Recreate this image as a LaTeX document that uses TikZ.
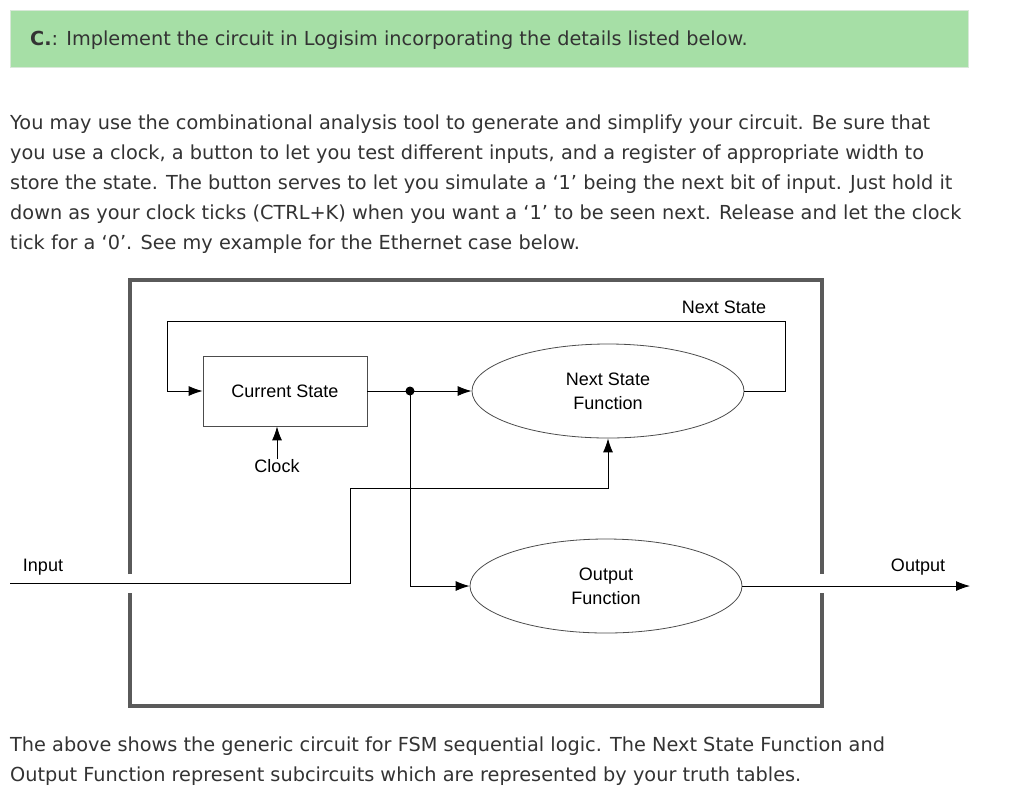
\documentclass[tikz,border=0pt]{standalone}
\usepackage{fontspec}
\setmainfont{Liberation Sans}
\newfontfamily\parafont{DejaVu Sans}
\usetikzlibrary{shapes.geometric,arrows.meta}
\definecolor{banner}{HTML}{A6DFA6}
\definecolor{bannerline}{HTML}{D8E8D8}
\definecolor{txt}{HTML}{333333}
\definecolor{frame}{HTML}{5A5A5A}
\begin{document}
\begin{tikzpicture}[x=1pt,y=-1pt,
  para/.style={anchor=west,inner sep=0,font=\parafont\fontsize{19.3}{22}\selectfont,text=txt},
  lbl/.style={inner sep=0,font=\fontsize{18}{24}\selectfont},
  wire/.style={line width=0.9pt},
  arr/.style={wire,-{Latex[length=14pt,width=10pt]}},
  ell/.style={ellipse,draw=black!70,line width=0.8pt,minimum width=272pt,minimum height=94pt,align=center,inner sep=0,font=\fontsize{18}{24}\selectfont}]
\useasboundingbox (0,0) rectangle (1024,804);
\fill[white] (0,0) rectangle (1024,804);
\filldraw[fill=banner,draw=bannerline,line width=1pt] (10,10) rectangle (968,67);
\node[para,anchor=west] (title) at (30,40) {\textbf{C.}: Implement the circuit in Logisim incorporating the details listed below.};
\node[para] (p1) at (10,124) {You may use the combinational analysis tool to generate and simplify your circuit. Be sure that};
\node[para] (p2) at (10,154) {you use a clock, a button to let you test different inputs, and a register of appropriate width to};
\node[para] (p3) at (10,184) {store the state. The button serves to let you simulate a ‘1’ being the next bit of input. Just hold it};
\node[para] (p4) at (10,214) {down as your clock ticks (CTRL+K) when you want a ‘1’ to be seen next. Release and let the clock};
\node[para] (p5) at (10,244) {tick for a ‘0’. See my example for the Ethernet case below.};
\node[para] (q1) at (10,746) {The above shows the generic circuit for FSM sequential logic. The Next State Function and};
\node[para] (q2) at (10,776) {Output Function represent subcircuits which are represented by your truth tables.};
% frame with gaps
\draw[frame,line width=3.5pt] (130,574) -- (130,280) -- (822,280) -- (822,574);
\draw[frame,line width=3.5pt] (130,593) -- (130,706) -- (822,706) -- (822,593);
% nodes
\node[draw=black!70,line width=0.8pt,minimum width=164pt,minimum height=70pt,lbl] (cs) at (285,391) {Current State};
\node[ell] (nsf) at (608,391) {Next State\\Function};
\node[ell] (of) at (606,586) {Output\\Function};
\node[lbl] (clk) at (277,466) {Clock};
\node[lbl] (nsl) at (724,307) {Next State};
\node[lbl] (inl) at (43,567) {Input};
\node[lbl] (outl) at (918,567) {Output};
\coordinate (inS) at (10,583);
\coordinate (outE) at (970,583);
\coordinate (dot) at (410,391);
% wires
\draw[arr] (cs.east) -- (nsf.west);
\fill (dot) circle (4.5pt);
\draw[arr] (dot) |- (of.west);
\draw[arr] (clk.north) -- (clk.north |- cs.south);
\draw[arr] (nsf.east) -- (785,391) -- (785,321) -- (167,321) |- (cs.west);
\draw[arr] (inS) -- (350,583) -- (350,488) -| (nsf.south);
\draw[arr] (of.east) -- (of.east -| outE);
\end{tikzpicture}
\end{document}
